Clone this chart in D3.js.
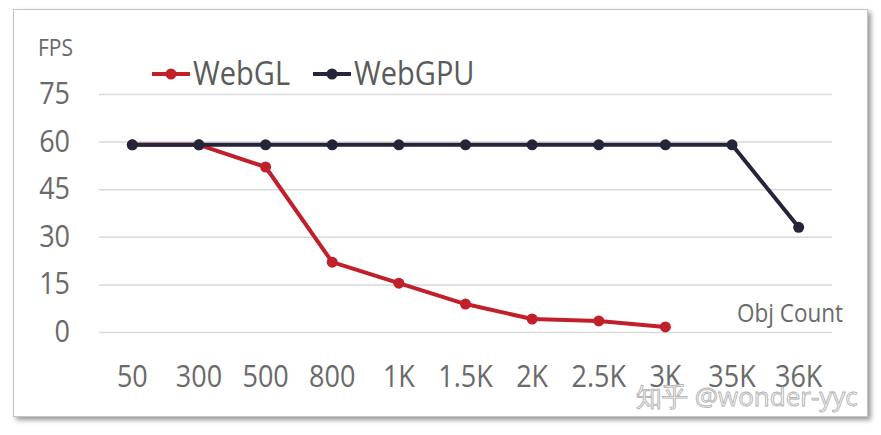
<!DOCTYPE html>
<html>
<head>
<meta charset="utf-8">
<script src="https://cdn.jsdelivr.net/npm/d3@7"></script>
<style>
  body { margin: 0; background: #fff; }
  text { font-family: "Open Sans", "Noto Sans", sans-serif; }
</style>
</head>
<body>
<script>
const WIDTH = 881
const HEIGHT = 435

const CATEGORIES = ['50', '300', '500', '800', '1K', '1.5K', '2K', '2.5K', '3K', '35K', '36K']
const WEBGL = [59, 59, 52, 22, 15.4, 8.8, 4.1, 3.5, 1.6, null, null]
const WEBGPU = [59, 59, 59, 59, 59, 59, 59, 59, 59, 59, 33]
const Y_TICKS = [0, 15, 30, 45, 60, 75]

const SERIES = [
  { name: 'WebGL', values: WEBGL, color: '#c1202b' },
  { name: 'WebGPU', values: WEBGPU, color: '#25253a' },
]

const TEXT_GREY = '#6a6a6a'
const STRETCH = 1.15 // le texte de l'original est un peu étiré en hauteur

const svg = d3.select('body')
  .append('svg')
  .attr('width', WIDTH)
  .attr('height', HEIGHT)

// ombre du cadre
const defs = svg.append('defs')
const shadow = defs.append('filter')
  .attr('id', 'shadow')
  .attr('x', '-5%').attr('y', '-5%')
  .attr('width', '110%').attr('height', '115%')
shadow.append('feDropShadow')
  .attr('dx', 3).attr('dy', 3)
  .attr('stdDeviation', 2.5)
  .attr('flood-color', '#000')
  .attr('flood-opacity', 0.4)

svg.append('rect')
  .attr('x', 13.5)
  .attr('y', 9.5)
  .attr('width', 854)
  .attr('height', 407)
  .attr('fill', '#fff')
  .attr('stroke', '#c4c4c4')
  .attr('filter', 'url(#shadow)')

const x = d3.scaleBand()
  .domain(CATEGORIES)
  .range([99, 832])

const y = d3.scaleLinear()
  .domain([0, 75])
  .range([332, 94])

const stretched = (sel, px, py) => sel
  .attr('transform', `translate(${px},${py}) scale(1,${STRETCH})`)

// lignes de grille + graduations Y
const yAxis = svg.append('g')
  .attr('transform', 'translate(99,0)')
  .call(d3.axisLeft(y).tickValues(Y_TICKS).tickSize(-(832 - 99)).tickPadding(29))
yAxis.select('.domain').remove()
yAxis.selectAll('.tick line')
  .attr('stroke', '#d9d9d9')
  .attr('stroke-width', 1.5)
yAxis.selectAll('.tick text')
  .attr('fill', TEXT_GREY)
  .attr('font-size', 27)
  .attr('dy', null)
  .attr('transform', `scale(1,${STRETCH})`)
  .attr('y', 9.5 / STRETCH)

// graduations X
const xAxis = svg.append('g')
  .attr('transform', 'translate(0,332)')
  .call(d3.axisBottom(x).tickSize(0).tickPadding(0))
xAxis.select('.domain').remove()
xAxis.selectAll('.tick text')
  .attr('fill', TEXT_GREY)
  .attr('font-size', 27)
  .attr('dy', null)
  .attr('y', 55 / STRETCH)
  .attr('transform', `scale(1,${STRETCH})`)

// les courbes
const lineOf = s => d3.line()
  .defined(d => d != null)
  .x((d, i) => x(CATEGORIES[i]) + x.bandwidth() / 2)
  .y(d => y(d))(s.values)

const groups = svg.selectAll('g.series')
  .data(SERIES)
  .enter()
  .append('g')
  .attr('class', 'series')

groups.append('path')
  .attr('d', lineOf)
  .attr('fill', 'none')
  .attr('stroke', d => d.color)
  .attr('stroke-width', 4)
  .attr('stroke-linejoin', 'round')

groups.selectAll('circle')
  .data(s => s.values.map((v, i) => ({ v, i, color: s.color })).filter(d => d.v != null))
  .enter()
  .append('circle')
  .attr('cx', d => x(CATEGORIES[d.i]) + x.bandwidth() / 2)
  .attr('cy', d => y(d.v))
  .attr('r', 5.5)
  .attr('fill', d => d.color)

// la légende
const LEGEND_X = [152, 313]
const legend = svg.selectAll('g.legend')
  .data(SERIES)
  .enter()
  .append('g')
  .attr('class', 'legend')
  .attr('transform', (d, i) => `translate(${LEGEND_X[i]},74)`)

legend.append('line')
  .attr('x1', 0).attr('x2', 38)
  .attr('stroke', d => d.color)
  .attr('stroke-width', 4)
legend.append('circle')
  .attr('cx', 19)
  .attr('r', 5.5)
  .attr('fill', d => d.color)
legend.append('text')
  .attr('x', 41)
  .attr('transform', `scale(1,${STRETCH})`)
  .attr('y', 11 / STRETCH)
  .attr('fill', '#5a5a5a')
  .attr('font-size', 29)
  .text(d => d.name)

// titres des axes
svg.append('text')
  .call(stretched, 38, 56)
  .attr('fill', TEXT_GREY)
  .attr('font-size', 21)
  .text('FPS')

svg.append('text')
  .call(stretched, 737, 322)
  .attr('fill', TEXT_GREY)
  .attr('font-size', 22.5)
  .text('Obj Count')

// filigrane
svg.append('text')
  .attr('x', 636)
  .attr('y', 406)
  .attr('fill', '#f4f4f4')
  .attr('stroke', '#b0b0b0')
  .attr('stroke-width', 0.8)
  .attr('font-size', 26)
  .text('知乎 @wonder-yyc')
</script>
</body>
</html>
